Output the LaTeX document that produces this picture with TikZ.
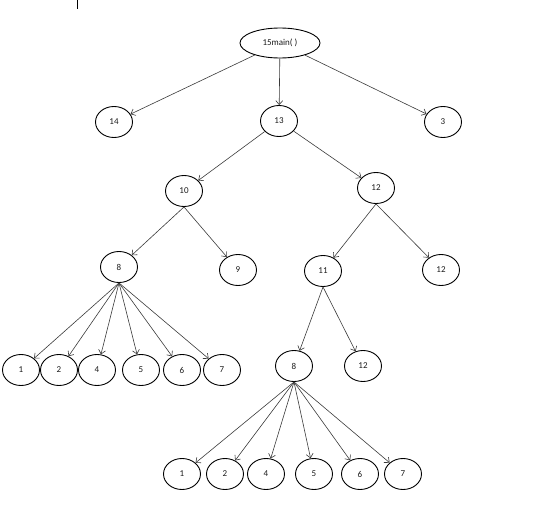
\documentclass[tikz,border=0pt]{standalone}
\usepackage{fontspec}
\setmainfont{Carlito}
\usepackage{tikz}
\usetikzlibrary{arrows.meta, shapes.geometric}
\definecolor{treeLine}{HTML}{3A3A3A}
\definecolor{treeText}{HTML}{1A1A1A}

\begin{document}
\begin{tikzpicture}[
  x=1pt, y=-1pt,
  every node/.style={font=\fontsize{9}{10}\selectfont, text=treeText},
  callnode/.style={
    ellipse, draw=black, line width=0.9pt,
    minimum width=37pt, minimum height=31pt, inner sep=0pt
  },
  rootnode/.style={
    callnode, minimum width=80pt, minimum height=30pt
  },
  edge/.style={
    draw=treeLine, line width=0.6pt,
    -{Straight Barb[length=4pt,width=7pt]}
  },
]
\useasboundingbox (0,0) rectangle (554,522);

% cursor tick
\draw[line width=0.8pt] (77,0) -- (77,9);

% === ROOT ===
\node[rootnode] (root) at (280,43) {15main( )};

% Level 1
\node[callnode] (n14) at (114,122) {14};
\node[callnode] (n13) at (279,121) {13};
\node[callnode] (n3) at (443,122) {3};

% Level 2
\node[callnode] (n10) at (184,191) {10};
\node[callnode] (n12a) at (376,188) {12};

% Level 3
\node[callnode] (a8) at (119,267) {8};
\node[callnode] (n9) at (238,270) {9};
\node[callnode] (n11) at (323,271) {11};
\node[callnode] (n12b) at (441,270) {12};

% Leaves of the first 8
\foreach \k/\x in {1/21, 2/59, 4/97, 5/141, 6/182, 7/222} {
  \node[callnode] (a\k) at (\x,370) {\k};
}

% Level 4 (right)
\node[callnode] (b8) at (294,366) {8};
\node[callnode] (n12c) at (363,366) {12};

% Leaves of the second 8
\foreach \k/\x in {1/182, 2/225, 4/266, 5/314, 6/360, 7/403} {
  \node[callnode] (b\k) at (\x,474) {\k};
}

% === CALLS ===
\draw[edge] (root) -- (n14);
\draw[edge] (root) -- (n13);
\draw[edge] (root) -- (n3);

\draw[edge] (n13) -- (n10);
\draw[edge] (n13) -- (n12a);

\draw[edge] (n10.south) -- (a8);
\draw[edge] (n10.south) -- (n9);
\draw[edge] (n12a.south) -- (n11);
\draw[edge] (n12a.south) -- (n12b);

\draw[edge] (n11.south) -- (b8);
\draw[edge] (n11.south) -- (n12c);

% fans out of 8
\foreach \k in {1,2,4,5,6,7} {
  \draw[edge] (a8.south) -- (a\k);
  \draw[edge] (b8.south) -- (b\k);
}

\end{tikzpicture}
\end{document}
